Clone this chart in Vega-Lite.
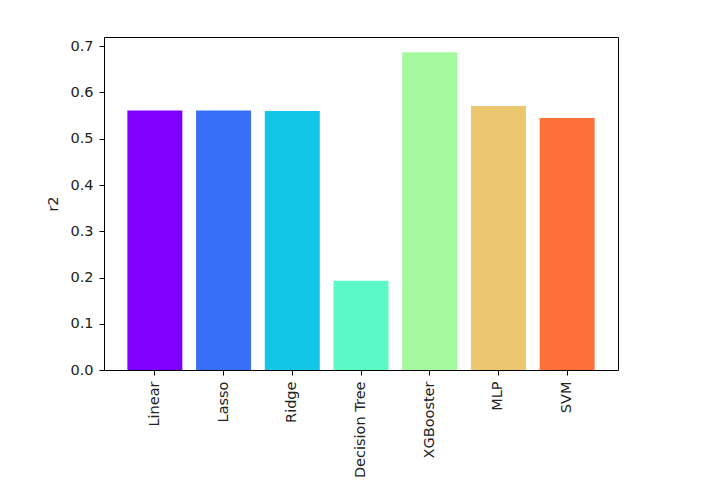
{
  "$schema": "https://vega.github.io/schema/vega-lite/v6.json",
  "autosize": "none",
  "width": 514,
  "height": 333,
  "padding": {"left": 104, "top": 37, "right": 90, "bottom": 130},
  "background": "white",
  "config": {
    "font": "DejaVu Sans",
    "view": {"stroke": "#000000", "strokeWidth": 1},
    "axis": {
      "labelFont": "DejaVu Sans",
      "titleFont": "DejaVu Sans",
      "labelFontSize": 14.5,
      "titleFontSize": 14.5,
      "labelColor": "#222222",
      "titleColor": "#222222",
      "titleFontWeight": "normal",
      "tickColor": "#000000",
      "tickSize": 5,
      "tickWidth": 1,
      "grid": false,
      "domain": false
    }
  },
  "data": {
    "values": [
      {"model": "Linear", "r2": 0.561},
      {"model": "Lasso", "r2": 0.561},
      {"model": "Ridge", "r2": 0.560},
      {"model": "Decision Tree", "r2": 0.193},
      {"model": "XGBooster", "r2": 0.687},
      {"model": "MLP", "r2": 0.571},
      {"model": "SVM", "r2": 0.545}
    ]
  },
  "mark": {"type": "bar"},
  "encoding": {
    "x": {
      "field": "model",
      "type": "nominal",
      "sort": null,
      "scale": {"paddingInner": 0.2, "paddingOuter": 0.34},
      "axis": {"title": null, "labelAngle": -90, "labelPadding": 6}
    },
    "y": {
      "field": "r2",
      "type": "quantitative",
      "scale": {"domain": [0, 0.72], "nice": false, "zero": true},
      "axis": {
        "title": "r2",
        "values": [0, 0.1, 0.2, 0.3, 0.4, 0.5, 0.6, 0.7],
        "format": ".1f",
        "labelPadding": 6,
        "titlePadding": 9
      }
    },
    "color": {
      "field": "model",
      "type": "nominal",
      "sort": null,
      "legend": null,
      "scale": {
        "domain": ["Linear", "Lasso", "Ridge", "Decision Tree", "XGBooster", "MLP", "SVM"],
        "range": ["#8000ff", "#376ff9", "#12c7e6", "#5bf9c7", "#a4f99f", "#edc76f", "#ff6f39"]
      }
    }
  }
}
